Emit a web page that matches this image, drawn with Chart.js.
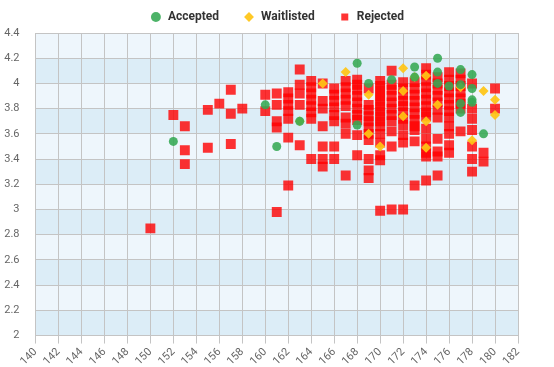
<!DOCTYPE html>
<html>
<head>
<meta charset="utf-8">
<script src="https://cdn.jsdelivr.net/npm/chart.js@4.4.0/dist/chart.umd.min.js"></script>
<style>
  html, body { margin: 0; padding: 0; background: #fff; }
  #wrap { width: 554px; height: 367px; }
</style>
</head>
<body>
<div id="wrap"><canvas id="chart" width="554" height="367"></canvas></div>
<script>
// height (cm) -> list of GPA values, one list per outcome
const accepted = {
  152: [3.54],
  160: [3.83],
  161: [3.50],
  163: [3.70],
  168: [4.16, 3.67],
  169: [4.00],
  171: [4.03],
  173: [4.13, 4.05],
  175: [4.20, 4.09, 4.00],
  176: [3.98],
  177: [4.11, 3.99, 3.84, 3.77],
  178: [4.07, 3.96, 3.87, 3.85],
  179: [3.60]
};

const waitlisted = {
  163: [3.70],
  165: [4.00],
  167: [4.09],
  169: [3.91, 3.60],
  170: [3.50],
  172: [4.12, 3.94, 3.74],
  173: [4.05],
  174: [4.06, 3.70, 3.49],
  175: [3.83],
  177: [3.97],
  178: [3.55],
  179: [3.94],
  180: [3.87, 3.75]
};

const rejected = {
  150: [2.85],
  152: [3.75],
  153: [3.66, 3.47, 3.36],
  155: [3.79, 3.49],
  156: [3.84],
  157: [3.95, 3.76, 3.52],
  158: [3.80],
  160: [3.91, 3.78],
  161: [3.92, 3.83, 3.70, 3.65, 2.98],
  162: [3.93, 3.88, 3.83, 3.78, 3.72, 3.57, 3.19],
  163: [4.11, 3.99, 3.92, 3.83, 3.51],
  164: [4.02, 3.97, 3.92, 3.87, 3.82, 3.77, 3.72, 3.40],
  165: [4.00, 3.86, 3.80, 3.66, 3.50, 3.40, 3.34],
  166: [3.96, 3.91, 3.86, 3.81, 3.75, 3.70, 3.50, 3.40],
  167: [4.02, 3.97, 3.92, 3.87, 3.82, 3.73, 3.68, 3.60, 3.27],
  168: [4.03, 3.99, 3.95, 3.90, 3.85, 3.80, 3.75, 3.71, 3.59, 3.43],
  169: [3.96, 3.83, 3.79, 3.74, 3.70, 3.65, 3.60, 3.55, 3.40, 3.31, 3.25],
  170: [4.02, 3.98, 3.94, 3.90, 3.86, 3.82, 3.78, 3.74, 3.70, 3.66, 3.60, 3.53, 3.43, 3.39, 2.99],
  171: [4.10, 3.99, 3.95, 3.90, 3.85, 3.80, 3.75, 3.70, 3.62, 3.50, 3.00],
  172: [4.01, 3.96, 3.91, 3.86, 3.82, 3.77, 3.72, 3.67, 3.59, 3.53, 3.00],
  173: [4.01, 3.96, 3.91, 3.86, 3.81, 3.76, 3.71, 3.66, 3.63, 3.54, 3.19],
  174: [4.12, 4.07, 4.02, 3.97, 3.92, 3.87, 3.82, 3.77, 3.74, 3.64, 3.56, 3.50, 3.45, 3.42, 3.23],
  175: [4.05, 4.00, 3.95, 3.90, 3.85, 3.79, 3.73, 3.56, 3.46, 3.42, 3.27],
  176: [4.09, 4.03, 3.98, 3.93, 3.88, 3.83, 3.78, 3.73, 3.66, 3.60, 3.51, 3.45],
  177: [4.08, 4.03, 3.98, 3.93, 3.88, 3.84, 3.80, 3.62],
  178: [4.00, 3.80, 3.72, 3.63, 3.50, 3.40, 3.30],
  179: [3.45, 3.38],
  180: [3.96, 3.80]
};

const seriesLabels = ['Accepted', 'Waitlisted', 'Rejected'];

// axis ranges
const xMin = 140, xMax = 182, xStep = 2;
const yMin = 2, yMax = 4.4, yStep = 0.2;

function toPoints(group) {
  const pts = [];
  Object.keys(group).forEach(h => {
    group[h].forEach(gpa => pts.push({ x: Number(h), y: gpa }));
  });
  return pts;
}

// alternating blue stripes behind the plot
const stripes = {
  id: 'stripes',
  beforeDraw(chart) {
    const { ctx, chartArea, scales } = chart;
    ctx.save();
    let i = 0;
    for (let v = yMin; v < yMax - 1e-9; v += yStep, i++) {
      const y1 = scales.y.getPixelForValue(v);
      const y2 = scales.y.getPixelForValue(v + yStep);
      ctx.fillStyle = i % 2 === 0 ? '#dcedf7' : '#eef6fc';
      ctx.fillRect(chartArea.left, y2, chartArea.right - chartArea.left, y1 - y2);
    }
    ctx.restore();
  }
};

const gridColor = '#c4c4c4';

new Chart(document.getElementById('chart'), {
  type: 'scatter',
  data: {
    datasets: [
      {
        label: seriesLabels[0],
        data: toPoints(accepted),
        pointStyle: 'circle',
        pointRadius: 4.5,
        pointHoverRadius: 4.5,
        backgroundColor: 'rgba(52,168,83,0.88)',
        borderColor: 'rgba(52,168,83,0.88)',
        borderWidth: 0
      },
      {
        label: seriesLabels[1],
        data: toPoints(waitlisted),
        pointStyle: 'rectRot',
        pointRadius: 5,
        pointHoverRadius: 5,
        backgroundColor: 'rgba(255,196,20,0.92)',
        borderColor: 'rgba(255,196,20,0.92)',
        borderWidth: 0
      },
      {
        label: seriesLabels[2],
        data: toPoints(rejected),
        pointStyle: 'rect',
        pointRadius: 7,
        pointHoverRadius: 7,
        backgroundColor: 'rgba(255,0,0,0.8)',
        borderColor: 'rgba(255,0,0,0.8)',
        borderWidth: 0
      }
    ]
  },
  options: {
    responsive: false,
    animation: false,
    layout: { padding: { top: -13, right: 0, bottom: -3, left: 0 } },
    plugins: {
      legend: {
        position: 'top',
        labels: {
          usePointStyle: true,
          boxWidth: 12,
          boxHeight: 7,
          padding: 24,
          color: '#333',
          font: { family: 'Roboto', size: 12, weight: 'bold' }
        }
      },
      tooltip: { enabled: false }
    },
    scales: {
      x: {
        type: 'linear',
        min: xMin,
        max: xMax,
        afterFit(scale) {
          scale.paddingLeft = 0;
          scale.paddingRight = 36;
        },
        ticks: {
          stepSize: xStep,
          autoSkip: false,
          minRotation: 45,
          maxRotation: 45,
          padding: 2,
          color: '#666',
          font: { family: 'Roboto', size: 11 }
        },
        grid: { color: gridColor, tickLength: 8, drawTicks: true },
        border: { color: gridColor }
      },
      y: {
        min: yMin,
        max: yMax,
        afterFit(scale) {
          scale.width = 35.5;
        },
        ticks: {
          stepSize: yStep,
          padding: 16,
          color: '#666',
          font: { family: 'Roboto', size: 11 },
          callback: v => String(Math.round(v * 10) / 10)
        },
        grid: { color: gridColor, drawTicks: false },
        border: { color: gridColor }
      }
    }
  },
  plugins: [stripes]
});
</script>
</body>
</html>
